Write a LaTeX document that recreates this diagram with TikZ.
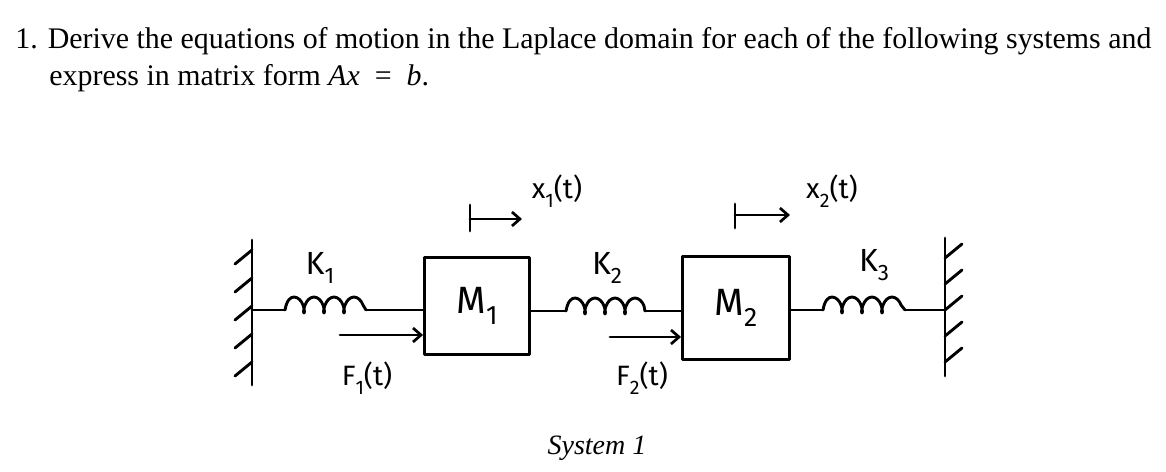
\documentclass[tikz,border=0pt]{standalone}
\usepackage{fontspec}
\setmainfont{Liberation Serif}
\newfontfamily\hand{Fira Sans}
\newcommand{\mysub}[1]{\raisebox{-0.3em}{\scalebox{0.7}{#1}}}
\usetikzlibrary{decorations.pathmorphing,arrows.meta}
\begin{document}
\begin{tikzpicture}[x=1pt,y=-1pt,line width=2.9pt,line cap=round,line join=round,
  spr/.style={decorate,decoration={coil,aspect=0.5,segment length=20pt,amplitude=8pt,raise=5pt,pre length=0pt,post length=0pt}},
  arr/.style={-{Straight Barb[length=8pt,width=14pt,line width=2.7pt]}},
  lab/.style={font=\hand\fontsize{32}{32}\selectfont,inner sep=0pt},
  mass/.style={draw,minimum width=105pt,minimum height=97pt,inner sep=0pt,font=\hand\fontsize{38}{38}\selectfont}]
\useasboundingbox (0,0) rectangle (1166,471);
\node[anchor=base west,inner sep=0pt,font=\fontsize{29.9}{30}\selectfont] (t1) at (14,48) {1. Derive the equations of motion in the Laplace domain for each of the following systems and};
\node[anchor=base west,inner sep=0pt,font=\fontsize{29.9}{30}\selectfont] (t2) at (48,85) {express in matrix form \textit{Ax}\enspace=\enspace\textit{b}.};
\node[inner sep=0pt,font=\itshape\fontsize{28}{28}\selectfont] (sys) at (597,448) {System 1};
% walls
\coordinate (wlt) at (252,240); \coordinate (wlb) at (252,385);
\draw (wlt) -- (wlb);
\foreach \y in {250,278,306,334,362} \draw (252,\y) -- (235,\y+14);
\coordinate (wrt) at (945,238); \coordinate (wrb) at (945,376);
\draw (wrt) -- (wrb);
\foreach \y in {258,284,310,336,362} \draw (945,\y) -- (962,\y-14);
% masses
\node[mass] (m1) at (477,306) {M\mysub{1}};
\node[mass,minimum width=107pt,minimum height=103pt] (m2) at (736,308) {M\mysub{2}};
% springs
\coordinate (s1a) at (252,310); \coordinate (s1b) at (285,310); \coordinate (s1c) at (366,310); \coordinate (s1d) at (424.8,310);
\draw (s1a) -- (s1b); \draw[spr] (s1b) -- (s1c); \draw (s1c) -- (s1d);
\coordinate (s2a) at (529.5,311); \coordinate (s2b) at (566,311); \coordinate (s2c) at (645,311); \coordinate (s2d) at (682.5,311);
\draw (s2a) -- (s2b); \draw[spr] (s2b) -- (s2c); \draw (s2c) -- (s2d);
\coordinate (s3a) at (789.5,310); \coordinate (s3b) at (823,310); \coordinate (s3c) at (905,310); \coordinate (s3d) at (945,310);
\draw (s3a) -- (s3b); \draw[spr] (s3b) -- (s3c); \draw (s3c) -- (s3d);
% forces
\coordinate (f1) at (340,335); \draw[arr] (f1) -- (m1.west |- f1);
\coordinate (f2) at (610,337); \draw[arr] (f2) -- (m2.west |- f2);
% displacements
\coordinate (x1a) at (470,219); \coordinate (x1b) at (522,219);
\draw (470,205) -- (470,231); \draw[arr] (x1a) -- (x1b);
\coordinate (x2a) at (735,215); \coordinate (x2b) at (790,215);
\draw (735,204) -- (735,228); \draw[arr] (x2a) -- (x2b);
% labels
\node[lab] (k1) at (320,268) {K\mysub{1}};
\node[lab] (k2) at (607,268) {K\mysub{2}};
\node[lab] (k3) at (874,265) {K\mysub{3}};
\node[lab,font=\hand\fontsize{28}{28}\selectfont] (F1) at (367,378) {F\mysub{1}(t)};
\node[lab,font=\hand\fontsize{28}{28}\selectfont] (F2) at (642,378) {F\mysub{2}(t)};
\node[lab,font=\hand\fontsize{28}{28}\selectfont] (X1) at (557,191) {x\mysub{1}(t)};
\node[lab,font=\hand\fontsize{28}{28}\selectfont] (X2) at (832,191) {x\mysub{2}(t)};
\end{tikzpicture}
\end{document}
